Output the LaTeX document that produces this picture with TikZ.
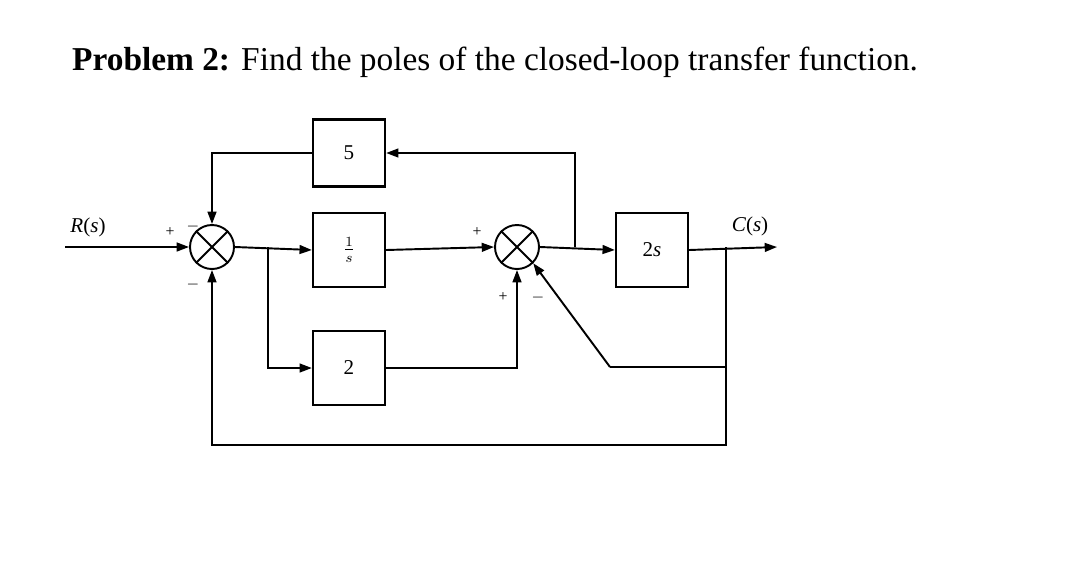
\documentclass[tikz,border=0pt]{standalone}
\usepackage{fontspec}
\setmainfont{Liberation Serif}
\usetikzlibrary{positioning}
\usetikzlibrary{arrows.meta}
\tikzset{
  blk/.style={draw, line width=1.3pt, minimum width=72*0.02cm, minimum height=74*0.02cm, font=\fontsize{12}{14}\selectfont},
  sum/.style={draw, circle, line width=1.1pt, minimum size=44*0.02cm, inner sep=0pt},
  sig/.style={->, >={Triangle[length=7pt,width=5pt]}, line width=1.1pt},
  wire/.style={line width=1.1pt},
  lbl/.style={font=\fontsize{12}{14}\selectfont},
  sgn/.style={font=\fontsize{9}{10}\selectfont}
}
\begin{document}
\begin{tikzpicture}[x=0.02cm, y=-0.02cm]
     \useasboundingbox (0,0) rectangle (1078,572);
     \node[anchor=base west, font=\fontsize{19}{22}\selectfont] (title) at (66,70) {\textbf{Problem 2:} Find the poles of the closed-loop transfer function.};

     \node[sum] (s1) at (212,247) {};
     \node[sum] (s2) at (517,247) {};
     \draw[line width=1.1pt] (s1.north west) -- (s1.south east) (s1.north east) -- (s1.south west);
     \draw[line width=1.1pt] (s2.north west) -- (s2.south east) (s2.north east) -- (s2.south west);
     \node[blk, minimum height=67*0.02cm] (five) at (349,153) {5};
     \node[blk] (integ) at (349,250) {$\frac{1}{s}$};
     \node[blk] (two) at (349,368) {2};
     \node[blk] (plant) at (652,250) {2\textit{s}};

     \coordinate (in) at (65,247);
     \coordinate (out) at (777,247);
     \coordinate (b1) at (268,247);
     \coordinate (b2) at (575,247);
     \coordinate (b3) at (726,247);
     \coordinate (b4) at (726,367);
     \coordinate (k) at (610,367);

     \draw[sig] (in) -- (s1.west);
     \draw[sig] (s1.east) -- (integ.west);
     \draw[sig] (b1) |- (two.west);
     \draw[sig] (integ.east) -- (s2.west);
     \draw[sig] (two.east) -| (s2.south);
     \draw[sig] (s2.east) -- (plant.west);
     \draw[sig] (b2) |- (five.east);
     \draw[sig] (five.west) -| (s1.north);
     \draw[sig] (plant.east) -- (out);
     \draw[sig] (b3) |- ([yshift=-175*0.02cm]s1.south) -- (s1.south);
     \draw[wire] (b4) -- (k);
     \draw[sig] (k) -- (s2.south east);

     \node[lbl] (r) at (88,227) {\textit{R}(\textit{s})};
     \node[lbl] (c) at (750,226) {\textit{C}(\textit{s})};
     \node[sgn] (p1) at (170,232) {+};
     \node[sgn] (m1) at (193,227) {$-$};
     \node[sgn] (m2) at (193,285) {$-$};
     \node[sgn] (p2) at (477,232) {+};
     \node[sgn] (p3) at (503,297) {+};
     \node[sgn] (m3) at (538,298) {$-$};
\end{tikzpicture}
\end{document}
